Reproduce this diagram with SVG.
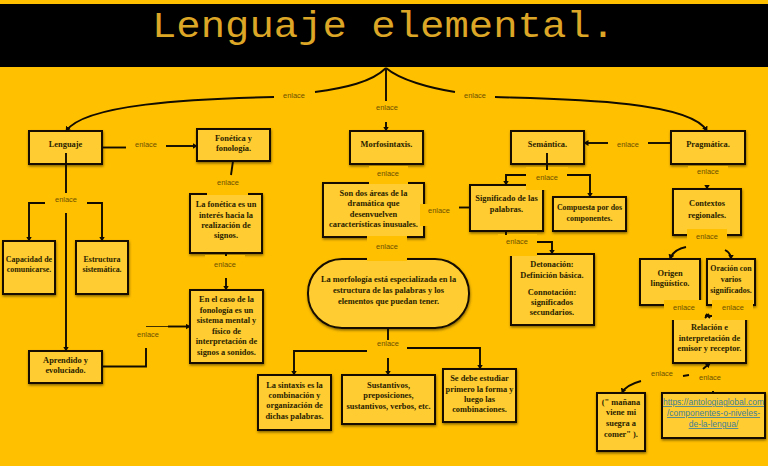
<svg xmlns="http://www.w3.org/2000/svg" width="768" height="466" viewBox="0 0 768 466">
<style>
.n{fill:#FFCC33;stroke:#120c00;stroke-width:2;filter:url(#s)}
.t{font-family:"Liberation Serif",serif;font-weight:bold;font-size:8.4px;fill:#2a1e00;text-anchor:middle}
.z{font-size:7.9px}
.l{font-family:"Liberation Sans",sans-serif;font-size:7.4px;fill:#6b5000;text-anchor:middle}
.c{fill:none;stroke:#120c00;stroke-width:1.9}
.a{marker-end:url(#ah)}
.b{fill:#FFC000}
.u{font-family:"Liberation Sans",sans-serif;font-size:8.5px;fill:#3f7f9a;text-anchor:middle;text-decoration:underline}
</style>
<defs>
<filter id="s" x="-10%" y="-10%" width="125%" height="125%"><feDropShadow dx="0.5" dy="1.5" stdDeviation="0.8" flood-color="#5a4200" flood-opacity="0.7"/></filter>
<marker id="ah" markerWidth="6" markerHeight="6" refX="4.5" refY="3" orient="auto" markerUnits="userSpaceOnUse"><path d="M0 0L5 3L0 6Z" fill="#120c00"/></marker>
</defs>
<rect width="768" height="466" fill="#FFC000"/>
<g id="header">
<rect x="0" y="4" width="768" height="63" fill="#000"/>
<text x="152" y="37" font-family="Liberation Mono,monospace" font-size="36.500" fill="#DCA626" textLength="463" lengthAdjust="spacingAndGlyphs">Lenguaje elemental.</text>
</g>
<g id="lenguaje"><rect class="n" x="29" y="131" width="73" height="33"/><text class="t" x="65.500" y="147">Lenguaje</text></g>
<g id="fonetica"><rect class="n" x="197" y="129" width="73" height="32"/><text class="t" x="233.500" y="141">Fonética y</text><text class="t" x="233.500" y="151">fonología.</text></g>
<g id="morfosintaxis"><rect class="n" x="350" y="131" width="73" height="33"/><text class="t" x="386.500" y="147">Morfosintaxis.</text></g>
<g id="semantica"><rect class="n" x="511" y="131" width="73" height="33"/><text class="t" x="547.500" y="147">Semántica.</text></g>
<g id="pragmatica"><rect class="n" x="671" y="131" width="74" height="33"/><text class="t" x="708" y="147">Pragmática.</text></g>
<g id="fonetica-texto"><rect class="n" x="190" y="194" width="72" height="59"/><text class="t" x="226" y="207">La fonética es un</text><text class="t" x="226" y="217.500">interés hacia la</text><text class="t" x="226" y="227.500">realización de</text><text class="t" x="226" y="238">signos.</text></g>
<g id="capacidad"><rect class="n" x="3" y="241" width="52" height="53"/><text class="t z" x="29" y="262">Capacidad de</text><text class="t z" x="29" y="272">comunicarse.</text></g>
<g id="estructura"><rect class="n" x="76" y="241" width="52" height="53"/><text class="t z" x="102" y="262">Estructura</text><text class="t z" x="102" y="272">sistemática.</text></g>
<g id="aprendido"><rect class="n" x="29" y="351" width="73" height="32"/><text class="t" x="65.500" y="363">Aprendido y</text><text class="t" x="65.500" y="373">evoluciado.</text></g>
<g id="fonologia"><rect class="n" x="190" y="290" width="73" height="73"/><text class="t" x="226.500" y="302">En el caso de la</text><text class="t" x="226.500" y="313">fonología es un</text><text class="t" x="226.500" y="323">sistema mental y</text><text class="t" x="226.500" y="334">físico de</text><text class="t" x="226.500" y="344">interpretación de</text><text class="t" x="226.500" y="355">signos a sonidos.</text></g>
<g id="areas"><rect class="n" x="323" y="183" width="101" height="54"/><text class="t" x="373.500" y="196">Son dos áreas de la</text><text class="t" x="373.500" y="206">dramática que</text><text class="t" x="373.500" y="217">desenvuelven</text><text class="t" x="373.500" y="227">características inusuales.</text></g>
<g id="morfologia"><rect class="n" x="308" y="259" width="161" height="69" rx="34" ry="34"/><text class="t" x="388.500" y="282">La morfología está especializada en la</text><text class="t" x="388.500" y="292.500">estructura de las palabras y los</text><text class="t" x="388.500" y="303.500">elementos que puedan tener.</text></g>
<g id="sintaxis"><rect class="n" x="258" y="375" width="73" height="55"/><text class="t" x="294.500" y="388">La sintaxis es la</text><text class="t" x="294.500" y="398">combinación y</text><text class="t" x="294.500" y="408">organización de</text><text class="t" x="294.500" y="419">dichas palabras.</text></g>
<g id="sustantivos"><rect class="n" x="342" y="375" width="93" height="49"/><text class="t" x="388.500" y="388">Sustantivos,</text><text class="t" x="388.500" y="398">preposiciones,</text><text class="t" x="388.500" y="409">sustantivos, verbos, etc.</text></g>
<g id="estudiar"><rect class="n" x="443" y="369" width="73" height="53"/><text class="t" x="479.500" y="381">Se debe estudiar</text><text class="t" x="479.500" y="392">primero la forma y</text><text class="t" x="479.500" y="402">luego las</text><text class="t" x="479.500" y="412">combinaciones.</text></g>
<g id="significado"><rect class="n" x="470" y="185" width="73" height="46"/><text class="t" x="506.500" y="201">Significado de las</text><text class="t" x="506.500" y="212">palabras.</text></g>
<g id="compuesta"><rect class="n" x="553" y="197" width="73" height="34"/><text class="t z" x="589.500" y="210">Compuesta por dos</text><text class="t z" x="589.500" y="221">componentes.</text></g>
<g id="detonacion"><rect class="n" x="511" y="254" width="83" height="71"/><text class="t" x="552" y="267">Detonación:</text><text class="t" x="552" y="278">Definición básica.</text><text class="t" x="552" y="295">Connotación:</text><text class="t" x="552" y="305">significados</text><text class="t" x="552" y="315">secundarios.</text></g>
<g id="contextos"><rect class="n" x="673" y="189" width="68" height="46"/><text class="t" x="707" y="206">Contextos</text><text class="t" x="707" y="217.500">regionales.</text></g>
<g id="origen"><rect class="n" x="640" y="259" width="60" height="46"/><text class="t" x="670" y="276">Origen</text><text class="t" x="670" y="286">lingüístico.</text></g>
<g id="oracion"><rect class="n" x="707" y="259" width="48" height="46"/><text class="t z" x="731" y="271">Oración con</text><text class="t z" x="731" y="282">varios</text><text class="t z" x="731" y="293">significados.</text></g>
<g id="relacion"><rect class="n" x="673" y="316" width="73" height="47"/><text class="t" x="709.500" y="330">Relación e</text><text class="t" x="709.500" y="341">interpretación de</text><text class="t" x="709.500" y="351">emisor y receptor.</text></g>
<g id="manana"><rect class="n" x="597" y="393" width="48" height="58"/><text class="t" x="621" y="405">(" mañana</text><text class="t" x="621" y="415">viene mi</text><text class="t" x="621" y="426">suegra a</text><text class="t" x="621" y="437">comer" ).</text></g>
<g id="fuente"><rect class="n" x="662" y="393" width="103" height="45"/><text class="u" x="713.500" y="405">https://antologiaglobal.com</text><text class="u" x="713.500" y="416">/componentes-o-niveles-</text><text class="u" x="713.500" y="427">de-la-lengua/</text></g>
<g id="patches">
<rect class="b" x="207" y="175" width="41" height="20"/>
<rect class="b" x="205" y="255" width="40" height="18"/>
<rect class="b" x="369" y="166" width="39" height="18"/>
<rect class="b" x="367" y="236" width="40" height="25"/>
<rect class="b" x="420" y="204" width="38" height="22"/>
<rect class="b" x="526" y="167" width="42" height="23"/>
<rect class="b" x="688" y="166" width="40" height="14"/>
<rect class="b" x="498" y="234" width="39" height="22"/>
<rect class="b" x="687" y="229" width="40" height="17"/>
<rect class="b" x="664" y="300" width="41" height="20"/>
<rect class="b" x="712" y="300" width="41" height="20"/>
</g>
<g id="connectors">
<path class="c" d="M386 68C372 82 345 88 315 92"/>
<path class="c a" d="M274 97C190 99 85 104 66 131"/>
<path class="c" d="M386 68V101"/><path class="c a" d="M386 122V131"/>
<path class="c" d="M386 68C400 80 430 88 455 92"/>
<path class="c a" d="M495 97C560 99 690 100 707 131"/>
<path class="c" d="M102 147.500H126"/><path class="c a" d="M166 146H197"/>
<path class="c" d="M233 161L231 175"/><path class="c" d="M226 253V256"/><path class="c a" d="M226 278V290"/>
<path class="c" d="M66 153V193"/><path class="c a" d="M45 203H29V241"/><path class="c a" d="M87 203H102V241"/>
<path class="c a" d="M66 213V351"/>
<path class="c" d="M102 366.500H146V348"/><path class="c" d="M146 326.500H168" style="stroke-width:0.800"/><path class="c a" d="M168 326.500H190"/>
<path class="c" d="M388 328V340"/><path class="c a" d="M367 351H294V375"/><path class="c a" d="M388 358V375"/><path class="c a" d="M407 348H480V369"/>
<path class="c" d="M459 207.500H470"/>
<path class="c" d="M547 153V170"/><path class="c a" d="M526 175H506V185"/><path class="c a" d="M567 175H590V197"/>
<path class="c a" d="M608 143H584"/><path class="c" d="M648 143H671"/>
<path class="c" d="M506 231V235"/><path class="c a" d="M537 242H552V254"/>
<path class="c a" d="M707 185V189"/>
<path class="c a" d="M686 247C677 249 672 253 670 259"/><path class="c a" d="M725 250C729 252 731 255 731 259"/>
<path class="c" d="M705 318L709 314M710 318L706 314"/>
<path class="c" d="M683 376L689 375"/><path class="c a" d="M703 369L710 363"/>
<path class="c a" d="M641 381C630 384 624 388 622 393"/>
<path class="c" d="M713 391V393"/>
</g>
<g id="labels">
<rect class="b" x="276" y="90" width="37" height="10"/><text class="l" x="294" y="97.500">enlace</text>
<rect class="b" x="371" y="102" width="32" height="10"/><text class="l" x="387" y="109.500">enlace</text>
<rect class="b" x="456" y="90" width="37" height="10"/><text class="l" x="475" y="97.500">enlace</text>
<text class="l" x="146" y="147">enlace</text>
<text class="l" x="228" y="184.500">enlace</text>
<text class="l" x="225" y="267">enlace</text>
<text class="l" x="66" y="202">enlace</text>
<text class="l" x="148" y="337">enlace</text>
<text class="l" x="388" y="176">enlace</text>
<text class="l" x="387" y="248.500">enlace</text>
<text class="l" x="388" y="346">enlace</text>
<text class="l" x="439" y="213">enlace</text>
<text class="l" x="547" y="180">enlace</text>
<text class="l" x="628" y="147">enlace</text>
<text class="l" x="708" y="174">enlace</text>
<text class="l" x="517" y="243.500">enlace</text>
<text class="l" x="707" y="238.500">enlace</text>
<text class="l" x="684" y="309.500">enlace</text>
<text class="l" x="733" y="309.500">enlace</text>
<text class="l" x="662" y="376">enlace</text>
<text class="l" x="710" y="379.500">enlace</text>
</g>
</svg>
